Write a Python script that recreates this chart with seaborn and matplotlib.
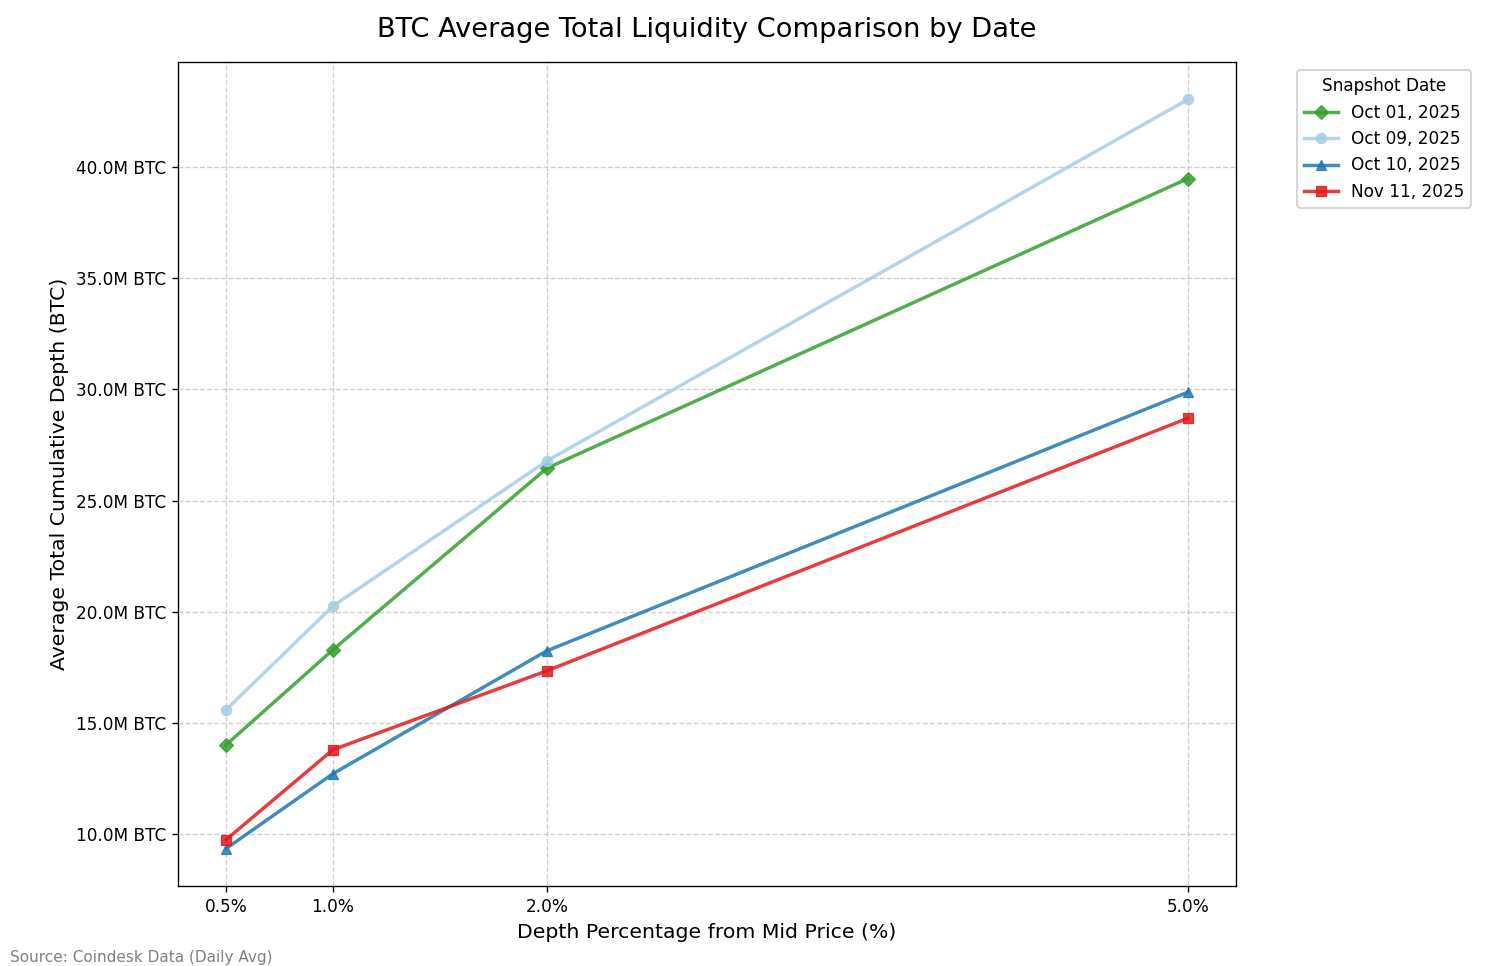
import matplotlib
matplotlib.use("Agg")
import matplotlib.pyplot as plt
import seaborn as sns
import pandas as pd

depths = [0.5, 1.0, 2.0, 5.0]
tick_labels = ["0.5%", "1.0%", "2.0%", "5.0%"]
dates = ["Oct 01, 2025", "Oct 09, 2025", "Oct 10, 2025", "Nov 11, 2025"]
oct01 = [14.0, 18.28, 26.45, 39.5]
oct09 = [15.58, 20.25, 26.78, 43.06]
oct10 = [9.33, 12.7, 18.23, 29.88]
nov11 = [9.73, 13.78, 17.33, 28.71]

colors = ["#33a02c", "#a6cee3", "#1f78b4", "#e31a1c"]
markers = ["D", "o", "^", "s"]

rows = []
for d, vals in zip(dates, [oct01, oct09, oct10, nov11]):
    for x, v in zip(depths, vals):
        rows.append({"depth": x, "value": v * 1e6, "date": d})
df = pd.DataFrame(rows)

plt.rcParams['font.family'] = ['DejaVu Sans']
s = 0.81
plt.rcParams.update({
    "xtick.major.size": 3.5 * s, "ytick.major.size": 3.5 * s,
    "xtick.major.pad": 3.5 * s, "ytick.major.pad": 3.5 * s,
    "xtick.major.width": 0.8 * s, "ytick.major.width": 0.8 * s,
    "axes.linewidth": 0.8 * s, "axes.labelpad": 4.0 * s,
    "grid.linewidth": 0.8 * s, "legend.borderaxespad": 0.5,
})

fig, ax = plt.subplots(figsize=(10, 6.44), dpi=150)
fig.subplots_adjust(left=178/1500, right=1236/1500, top=1-62/966, bottom=1-886/966)

for d, c, m in zip(dates, colors, markers):
    sub = df[df["date"] == d]
    sns.lineplot(data=sub, x="depth", y="value", ax=ax, color=c, marker=m,
                 markersize=4.9, linewidth=1.65, alpha=0.85, label=d,
                 markeredgewidth=0.6, markeredgecolor=c)

ax.set_xticks(depths)
ax.set_xticklabels(tick_labels)
ax.yaxis.set_major_formatter(matplotlib.ticker.FuncFormatter(lambda v, p: f"{v/1e6:.1f}M BTC"))
ax.tick_params(labelsize=8.1, colors="black")
ax.grid(True, linestyle="--", alpha=0.6)

ax.set_title("BTC Average Total Liquidity Comparison by Date", fontsize=13.1, pad=12)
ax.set_xlabel("Depth Percentage from Mid Price (%)", fontsize=9.75)
ax.set_ylabel("Average Total Cumulative Depth (BTC)", fontsize=9.75)
ax.legend(title="Snapshot Date", loc="upper left", bbox_to_anchor=(1.05, 1), fontsize=8.1, title_fontsize=8.1)

fig.text(10/1500, 1-957/966, "Source: Coindesk Data (Daily Avg)", fontsize=7.3, color="gray", va="center")

fig.savefig("out.png", dpi=150)
